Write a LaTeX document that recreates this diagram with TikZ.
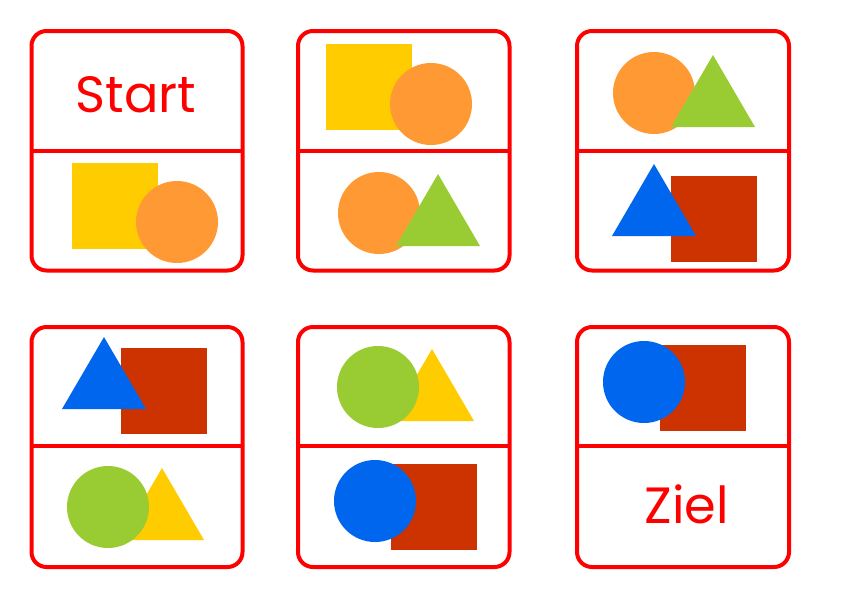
\documentclass[tikz,border=0pt]{standalone}
\usepackage{fontspec}
\setmainfont{Poppins}
\definecolor{cardred}{HTML}{FF0000}
\definecolor{sqyellow}{HTML}{FFCC00}
\definecolor{corange}{HTML}{FF9933}
\definecolor{cgreen}{HTML}{99CC33}
\definecolor{cblue}{HTML}{0066EE}
\definecolor{cbrown}{HTML}{CC3300}
\tikzset{
  card/.style={draw=cardred, line width=4pt, rounded corners=15pt},
  divider/.style={draw=cardred, line width=4pt},
  label/.style={text=cardred, font=\fontsize{51}{60}\selectfont, inner sep=0pt, anchor=base},
}
\newcommand{\sqshape}[3]{\fill[#3] (#1,#2) rectangle ++(86,86);}
\newcommand{\circshape}[3]{\fill[#3] (#1,#2) circle[radius=41];}
\newcommand{\trishape}[3]{\fill[#3] (#1,#2) -- ++(42,-72) -- ++(42,72) -- cycle;}
\begin{document}
\begin{tikzpicture}[x=1pt,y=-1pt]
\useasboundingbox (0,0) rectangle (842,595);
\fill[white] (0,0) rectangle (842,595);
% card 1
\draw[card] (31.5,31) rectangle (242.5,270.5);
\draw[divider] (31.5,150.5) -- (242.5,150.5);
\node[label] (start) at (136,112) {Start};
\sqshape{72}{163}{sqyellow}
\circshape{177}{222}{corange}
% card 2
\draw[card] (298,31) rectangle (509.5,270.5);
\draw[divider] (298,150.5) -- (509.5,150.5);
\sqshape{326}{44}{sqyellow}
\circshape{431}{104}{corange}
\circshape{379}{213}{corange}
\trishape{396}{246}{cgreen}
% card 3
\draw[card] (577,31) rectangle (789,270.5);
\draw[divider] (577,150.5) -- (789,150.5);
\circshape{654}{93}{corange}
\trishape{671}{127}{cgreen}
\sqshape{671}{176}{cbrown}
\trishape{612}{236}{cblue}
% card 4
\draw[card] (31.5,327) rectangle (242.5,567);
\draw[divider] (31.5,446) -- (242.5,446);
\sqshape{121}{348}{cbrown}
\trishape{62}{409}{cblue}
\trishape{120}{540}{sqyellow}
\circshape{108}{507}{cgreen}
% card 5
\draw[card] (298,327) rectangle (509.5,567);
\draw[divider] (298,446) -- (509.5,446);
\trishape{390}{421}{sqyellow}
\circshape{378}{387}{cgreen}
\sqshape{391}{464}{cbrown}
\circshape{375}{501}{cblue}
% card 6
\draw[card] (577,327) rectangle (789,567);
\draw[divider] (577,446) -- (789,446);
\sqshape{660}{345}{cbrown}
\circshape{644}{382}{cblue}
\node[label] (ziel) at (687,523) {Ziel};
\end{tikzpicture}
\end{document}
